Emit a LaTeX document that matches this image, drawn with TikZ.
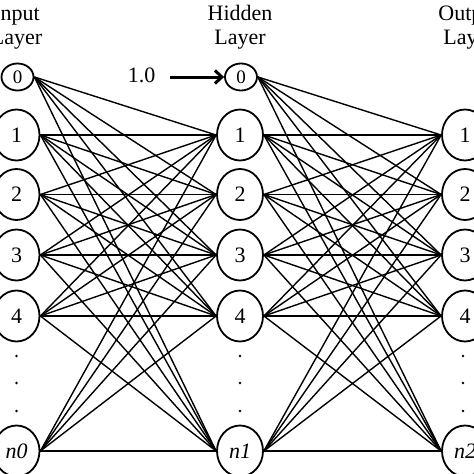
\documentclass[tikz,border=0pt]{standalone}
\usepackage{fontspec}
\setmainfont{Liberation Serif}
\usetikzlibrary{shapes.geometric,arrows.meta}
\begin{document}
\begin{tikzpicture}[x=1pt,y=-1pt,
  neuron/.style={ellipse, draw, line width=1.8pt, minimum width=46pt, minimum height=51pt, inner sep=0pt, font=\fontsize{22}{24}\selectfont},
  biasnode/.style={neuron, minimum width=32pt, minimum height=27pt, font=\fontsize{19}{20}\selectfont},
  link/.style={line width=1.4pt},
  lbl/.style={anchor=base, inner sep=0pt, font=\fontsize{22}{24}\selectfont},
  dotmark/.style={circle, fill, inner sep=0pt, minimum size=2.8pt}]
\useasboundingbox (0,0) rectangle (474,474);
% labels
\node[lbl] (inT1) at (16.5,20) {Input};
\node[lbl] (inT2) at (16.5,44) {Layer};
\node[lbl] (hiT1) at (240,20) {Hidden};
\node[lbl] (hiT2) at (240,44) {Layer};
\node[lbl] (ouT1) at (469,20) {Output};
\node[lbl] (ouT2) at (469,44) {Layer};
% input layer
\node[biasnode] (i0) at (17.5,77) {0};
\node[neuron] (i1) at (16.5,135) {1};
\node[neuron] (i2) at (16.5,194.5) {2};
\node[neuron] (i3) at (16.5,255) {3};
\node[neuron] (i4) at (16.5,316) {4};
\node[neuron] (in) at (16.5,451) {\textit{n0}};
% hidden layer
\node[biasnode] (h0) at (241,77) {0};
\node[neuron] (h1) at (240,135) {1};
\node[neuron] (h2) at (240,194.5) {2};
\node[neuron] (h3) at (240,255) {3};
\node[neuron] (h4) at (240,316) {4};
\node[neuron] (hn) at (240,451) {\textit{n1}};
% output layer
\node[neuron] (o1) at (465,135) {1};
\node[neuron] (o2) at (465,194.5) {2};
\node[neuron] (o3) at (465,255) {3};
\node[neuron] (o4) at (465,316) {4};
\node[neuron] (on) at (465,451) {\textit{n2}};
% dots
\foreach \x/\c in {16.5/i,240/h,463/o}{
  \foreach \y/\k in {356/a,383/b,411/c}{
    \node[dotmark] (\c d\k) at (\x,\y) {};
  }
}
% connections
\foreach \a in {0,1,2,3,4,n}{
  \foreach \b in {1,2,3,4,n}{
    \draw[link] (i\a.east) -- (h\b.west);
    \draw[link] (h\a.east) -- (o\b.west);
  }
}
% bias input
\node[lbl] (biasval) at (141.5,82) {1.0};
\coordinate (arrS) at (170,77);
\draw[line width=3pt, -{Straight Barb[length=7pt,width=13pt]}] (arrS) -- (h0.west);
\end{tikzpicture}
\end{document}
